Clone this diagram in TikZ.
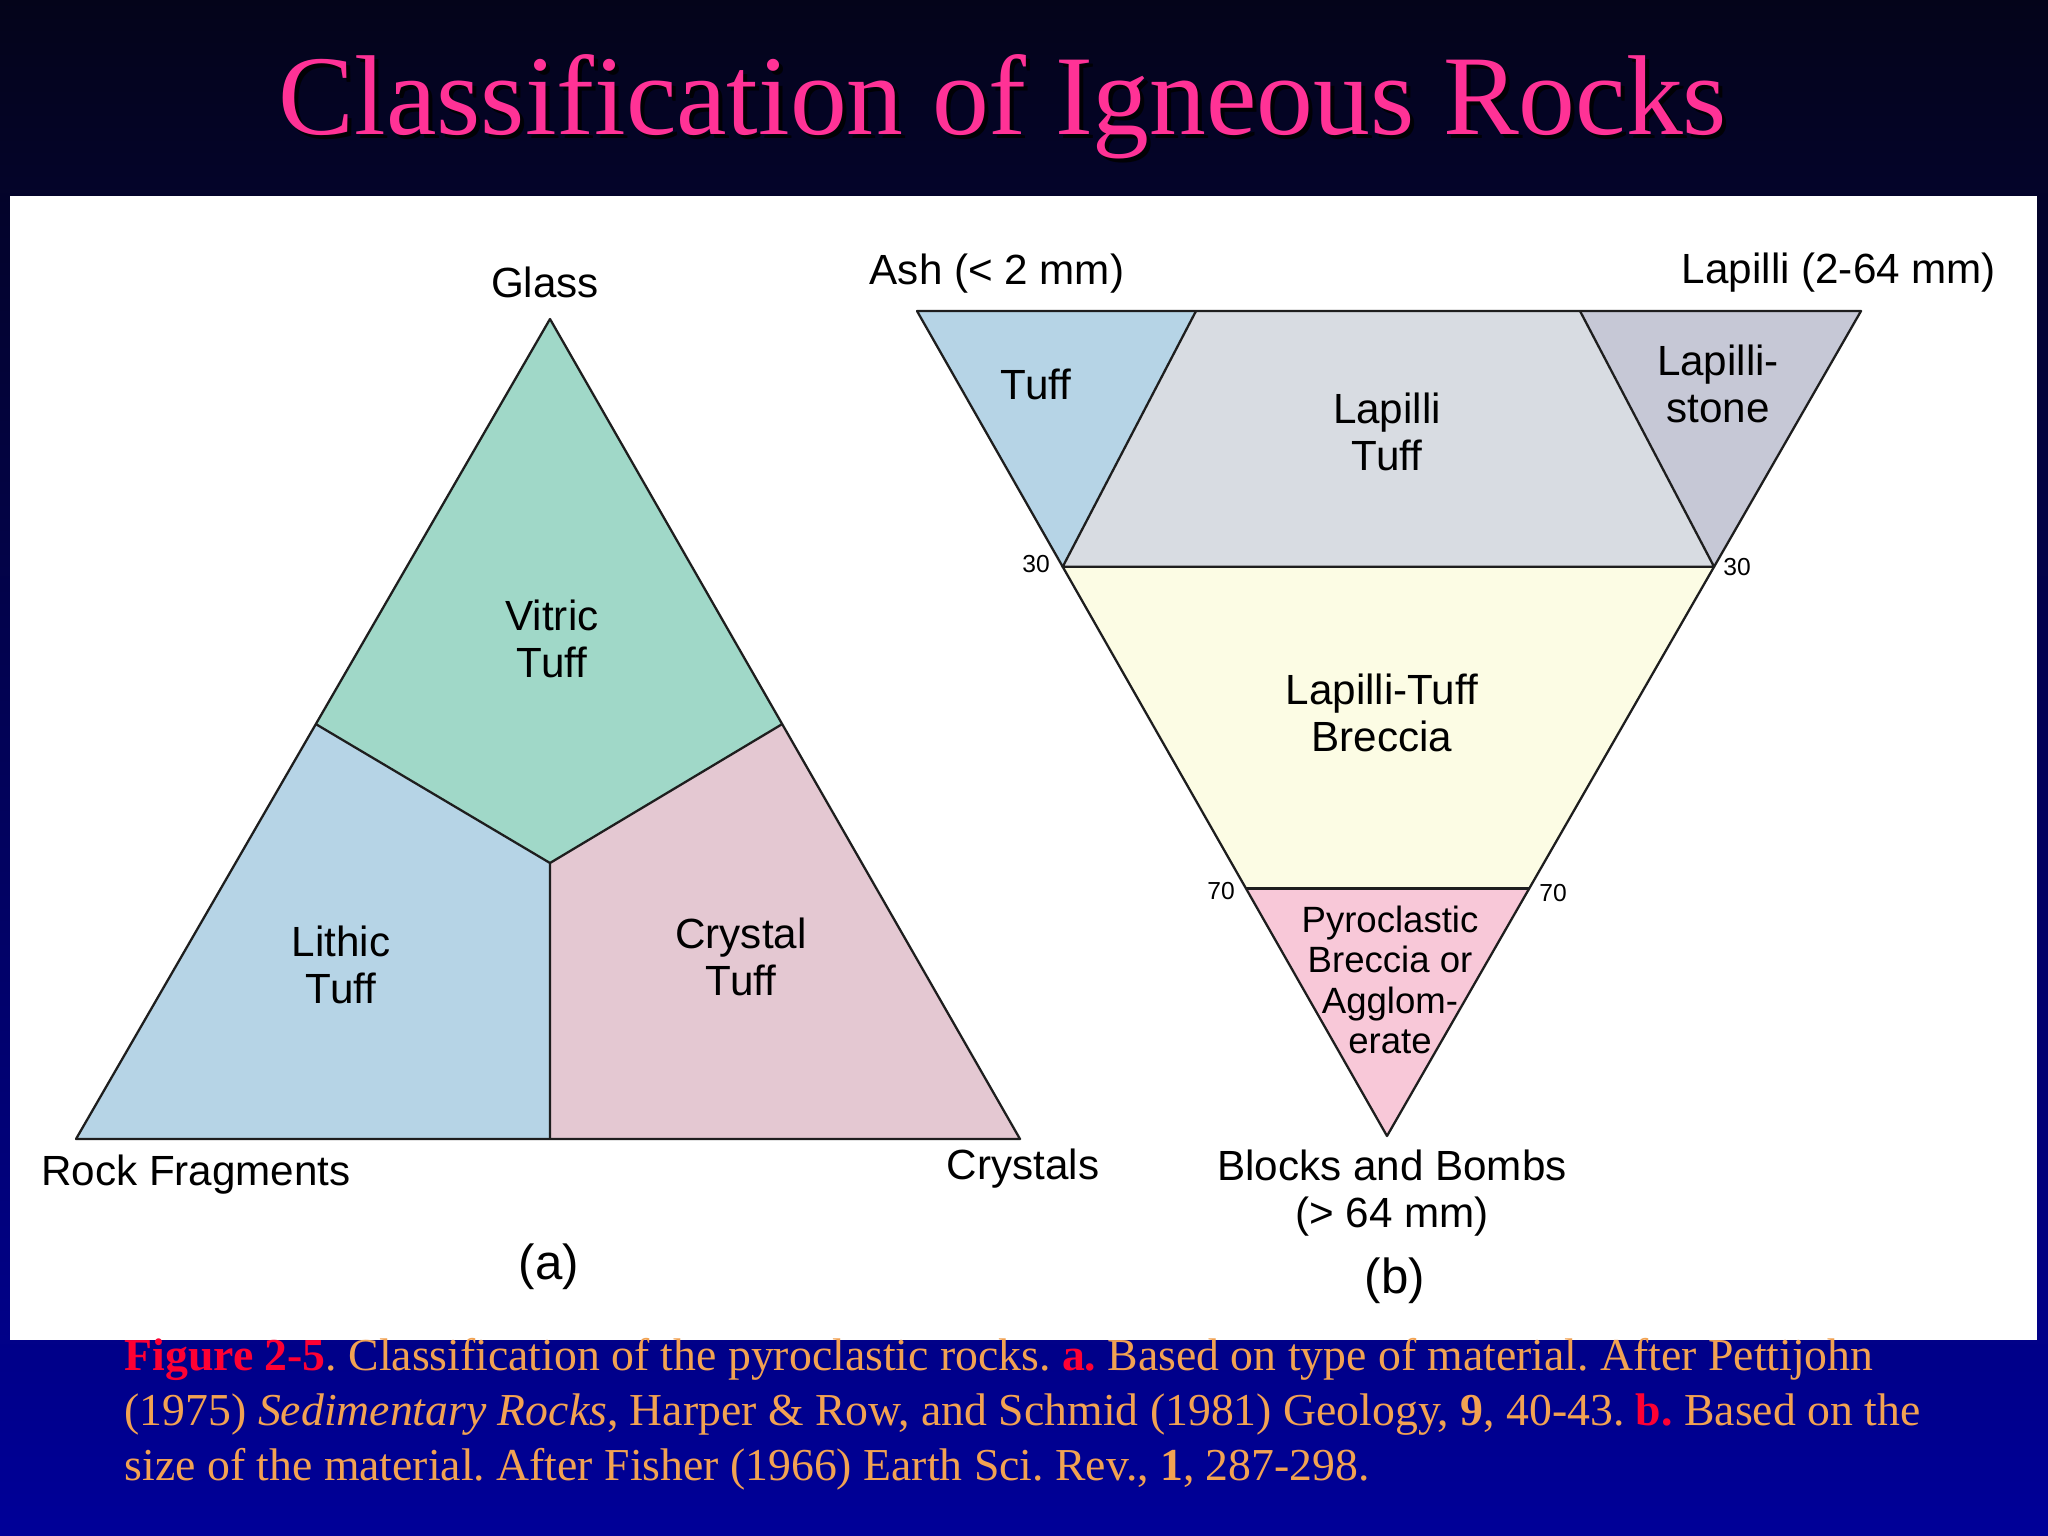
\documentclass[tikz,border=0pt]{standalone}
\usepackage{fontspec}
\setmainfont{Liberation Serif}
\newfontfamily\arial{Liberation Sans}
\usetikzlibrary{calc}
\frenchspacing
\definecolor{titlepink}{RGB}{255,50,150}
\definecolor{capor}{RGB}{242,162,82}
\definecolor{capred}{RGB}{255,0,51}
\definecolor{vitric}{RGB}{160,216,200}
\definecolor{lithic}{RGB}{182,212,230}
\definecolor{crystal}{RGB}{228,200,210}
\definecolor{tuffb}{RGB}{182,212,230}
\definecolor{ltuff}{RGB}{216,220,226}
\definecolor{lstone}{RGB}{198,200,214}
\definecolor{breccia}{RGB}{252,252,228}
\definecolor{pyro}{RGB}{248,200,216}
\definecolor{bgtop}{RGB}{4,4,26}
\definecolor{bgbot}{RGB}{0,0,152}
\definecolor{edge}{RGB}{30,30,30}
\begin{document}
\frenchspacing
\begin{tikzpicture}[x=0.01cm,y=-0.01cm,
  lbl/.style={font=\arial\fontsize{12}{13.4}\selectfont, align=center, inner sep=0pt, text=black},
  small/.style={font=\arial\fontsize{10.4}{11.5}\selectfont, align=center, inner sep=0pt, text=black},
  num/.style={font=\arial\fontsize{7}{8}\selectfont, inner sep=0pt, text=black},
  sub/.style={font=\arial\fontsize{14}{16}\selectfont, inner sep=0pt, text=black},
  captxt/.style={font=\fontsize{13}{15}\selectfont\frenchspacing, anchor=base west, inner sep=0pt, text=capor},
  region/.style={draw=edge, line width=0.65pt, line join=round}]
\useasboundingbox (0,0) rectangle (2048,1536);
\shade[top color=bgtop, bottom color=bgbot] (0,0) rectangle (2048,1536);
% title
\node[font=\fontsize{32.3}{36}\selectfont, text=black!80!bgtop, anchor=base, inner sep=0pt] at (1007,138) {Classification of Igneous Rocks};
\node[font=\fontsize{32.3}{36}\selectfont, text=titlepink, anchor=base, inner sep=0pt] (title) at (1003,134) {Classification of Igneous Rocks};
% white panel
\fill[white] (10,196) rectangle (2037,1340);

% ---------- (a) ----------
\coordinate (A) at (550,319);
\coordinate (BL) at (76,1139);
\coordinate (BR) at (1020,1139);
\coordinate (ML) at ($(A)!0.494!(BL)$);
\coordinate (MR) at ($(A)!0.494!(BR)$);
\coordinate (C) at (550,863);
\coordinate (BC) at (550,1139);
\path[fill=vitric] (A) -- (MR) -- (C) -- (ML) -- cycle;
\path[fill=lithic] (ML) -- (C) -- (BC) -- (BL) -- cycle;
\path[fill=crystal] (C) -- (MR) -- (BR) -- (BC) -- cycle;
\draw[region] (A) -- (BR) -- (BL) -- cycle;
\draw[region] (ML) -- (C) -- (MR) (C) -- (BC);

\node[lbl] (glass) at (545,282) {Glass};
\node[lbl] (vitric) at (552,639) {Vitric\\Tuff};
\node[lbl] (lithic) at (341,965) {Lithic\\Tuff};
\node[lbl] (crys) at (741,957) {Crystal\\Tuff};
\node[lbl] (rockf) at (196,1175) {Rock Fragments};
\node[lbl] (crystals) at (1023,1169) {Crystals};
\node[sub] (la) at (549,1267) {(a)};

% ---------- (b) ----------
\coordinate (TL) at (917,311);
\coordinate (TR) at (1861,311);
\coordinate (B) at (1387,1136);
\coordinate (T1) at (1196,311);
\coordinate (T2) at (1580,311);
\coordinate (L30) at ($(TL)!0.31!(B)$);
\coordinate (R30) at ($(TR)!0.31!(B)$);
\coordinate (L70) at ($(TL)!0.70!(B)$);
\coordinate (R70) at ($(TR)!0.70!(B)$);
\path[fill=tuffb] (TL) -- (T1) -- (L30) -- cycle;
\path[fill=ltuff] (T1) -- (T2) -- (R30) -- (L30) -- cycle;
\path[fill=lstone] (T2) -- (TR) -- (R30) -- cycle;
\path[fill=breccia] (L30) -- (R30) -- (R70) -- (L70) -- cycle;
\path[fill=pyro] (L70) -- (R70) -- (B) -- cycle;
\draw[region] (TL) -- (TR) -- (B) -- cycle;
\draw[region] (T1) -- (L30) -- (R30) -- (T2);
\draw[region] (L70) -- (R70);

\node[lbl] (ash) at (997,274) {Ash (< 2 mm)};
\node[lbl] (lap) at (1839,273) {Lapilli (2-64 mm)};
\node[lbl] (tuff) at (1036,384) {Tuff};
\node[lbl] (lt) at (1387,432) {Lapilli\\Tuff};
\node[lbl] (ls) at (1718,384) {Lapilli-\\stone};
\node[num] (n30l) at (1036,564) {30};
\node[num] (n30r) at (1737,567) {30};
\node[lbl] (brec) at (1382,713) {Lapilli-Tuff\\Breccia};
\node[num] (n70l) at (1221,891) {70};
\node[num] (n70r) at (1553,893) {70};
\node[small] (pyro) at (1390,980) {Pyroclastic\\Breccia or\\Agglom-\\erate};
\node[lbl] (blocks) at (1392,1193) {Blocks and Bombs\\(> 64 mm)};
\node[sub] (lb) at (1395,1281) {(b)};

% caption
\node[captxt] (c1) at (124,1370) {{\color{capred}\bfseries Figure 2-5}. Classification of the pyroclastic rocks. {\color{capred}\bfseries a.} Based on type of material. After Pettijohn};
\node[captxt] (c2) at (124,1425) {(1975) \textit{Sedimentary Rocks}, Harper \& Row, and Schmid (1981) Geology, \textbf{9}, 40-43. {\color{capred}\bfseries b.} Based on the};
\node[captxt] (c3) at (124,1480) {size of the material. After Fisher (1966) Earth Sci. Rev., \textbf{1}, 287-298.};
\end{tikzpicture}
\end{document}
